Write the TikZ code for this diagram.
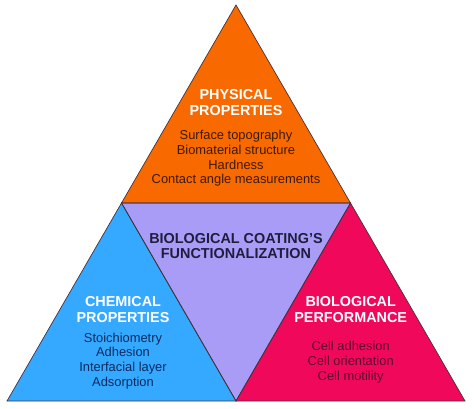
\documentclass[tikz,border=0pt]{standalone}
\usepackage{fontspec}
\setmainfont{Liberation Sans}
\definecolor{physorange}{RGB}{248,106,0}
\definecolor{chemblue}{RGB}{53,168,255}
\definecolor{biopink}{RGB}{240,8,90}
\definecolor{corelilac}{RGB}{168,156,246}
\definecolor{edgecol}{RGB}{70,50,60}
\definecolor{physdark}{RGB}{62,26,0}
\definecolor{chemdark}{RGB}{14,42,94}
\definecolor{biodark}{RGB}{92,8,48}
\definecolor{coredark}{RGB}{30,30,62}

\begin{document}
\begin{tikzpicture}[x=1pt,y=-1pt,
   tri/.style={draw=edgecol,line width=0.7pt,line join=miter},
   head/.style={align=center,inner sep=0pt,text=white,
     font=\fontsize{14.4}{15.5}\selectfont\bfseries},
   items/.style={align=center,inner sep=0pt,
     font=\fontsize{12.9}{14.6}\selectfont}]
  \useasboundingbox (0,0) rectangle (474,408);
  % corners of the pyramid
  \coordinate (top) at (236,5);
  \coordinate (bl) at (7,401);
  \coordinate (br) at (465,401);
  \coordinate (ml) at (121.5,203);
  \coordinate (mr) at (350.5,203);
  \coordinate (mb) at (236,401);
  % the four faces
  \fill[corelilac] (ml)--(mr)--(mb)--cycle;
  \draw[tri,fill=physorange] (top)--(mr)--(ml)--cycle;
  \draw[tri,fill=chemblue] (ml)--(mb)--(bl)--cycle;
  \draw[tri,fill=biopink] (mr)--(br)--(mb)--cycle;
  \draw[tri] (ml)--(mr)--(mb)--cycle;
  % texts
  \node[head] (physhead) at (236,102.4) {PHYSICAL\\PROPERTIES};
  \node[items,text=physdark] (physlist) at (236,158.5)
    {Surface topography\\Biomaterial structure\\Hardness\\Contact angle measurements};
  \node[head,text=coredark] (corehead) at (236,245.8)
    {BIOLOGICAL COATING’S\\FUNCTIONALIZATION};
  \node[head] (chemhead) at (123,309.5) {CHEMICAL\\PROPERTIES};
  \node[items,text=chemdark] (chemlist) at (123,360.8)
    {Stoichiometry\\Adhesion\\Interfacial layer\\Adsorption};
  \node[head] (biohead) at (350.7,309.5) {BIOLOGICAL\\PERFORMANCE};
  \node[items,text=biodark] (biolist) at (350.7,362.2)
    {Cell adhesion\\Cell orientation\\Cell motility};
\end{tikzpicture}
\end{document}
